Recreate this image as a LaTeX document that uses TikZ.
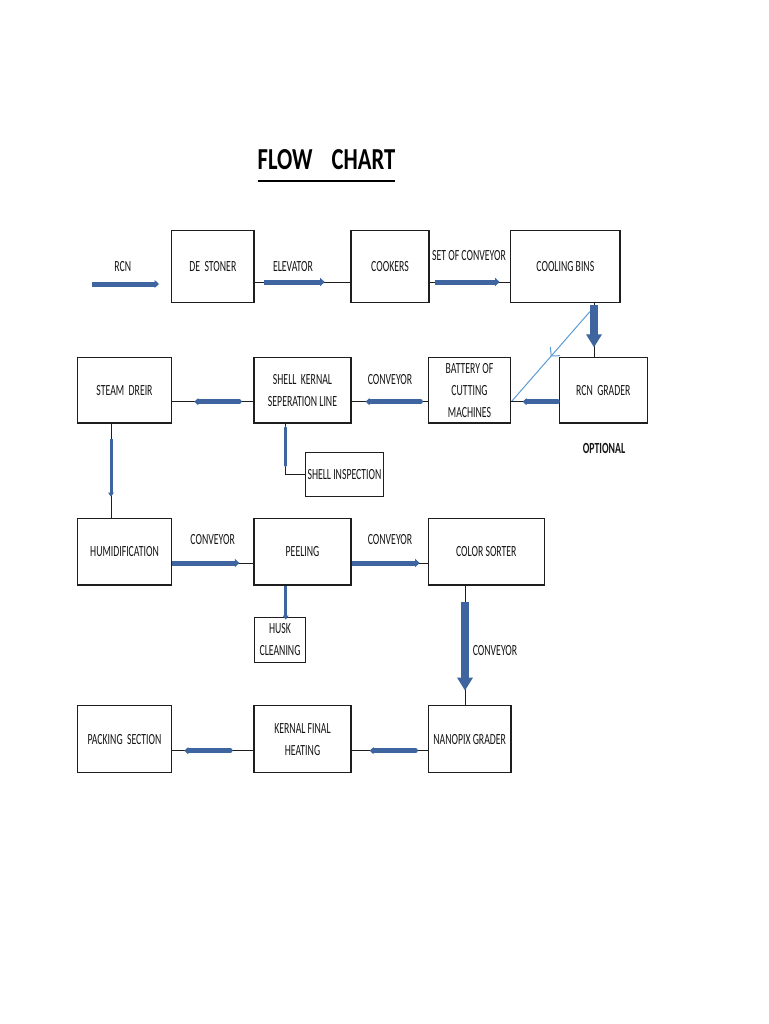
\documentclass[tikz,border=0pt]{standalone}
\usepackage{fontspec}
\setmainfont{Carlito}[FakeStretch=0.63]
\newfontfamily\titlefont{Carlito}[FakeStretch=0.74]
\usetikzlibrary{arrows.meta,calc,decorations.markings}
\definecolor{arrowblue}{RGB}{62,101,160}
\definecolor{diagblue}{RGB}{91,155,213}
\definecolor{linegray}{RGB}{30,30,30}
\definecolor{textgray}{RGB}{20,20,20}
\begin{document}
\begin{tikzpicture}[x=1pt,y=-1pt,
  box/.style={draw=linegray,line width=1.3pt,inner sep=1pt,align=center,text=textgray,
              font=\fontsize{15.5}{22}\selectfont},
  lbl/.style={inner sep=0pt,text=textgray,font=\fontsize{15.5}{22}\selectfont},
  conn/.style={draw=linegray,line width=1pt},
  harrow/.style={arrowblue,line width=5pt,-{Triangle[width=8pt,length=4.5pt]}},
  larrow/.style={arrowblue,line width=4.5pt,line cap=round,-{Triangle[width=7pt,length=4pt]}},
  bigdown/.style={arrowblue,line width=7.5pt,-{Triangle[width=15pt,length=13pt]}},
  thindown/.style={arrowblue,line width=3pt,-{Triangle[width=5.5pt,length=4pt]}},
  diag/.style={diagblue,line width=1pt,postaction={decorate},
     decoration={markings,mark=at position 0.5 with {\arrow{Straight Barb[length=6pt,width=13pt,line width=1pt]}}}}
]
\useasboundingbox (0,0) rectangle (768,1024);

% title
\node[inner sep=0pt,anchor=base west,text=black,font=\titlefont\fontsize{30.5}{30}\selectfont\bfseries] (title) at (257.5,169.5) {FLOW\hspace{19pt}CHART};
\draw[line width=2pt,black] ([yshift=-11.2pt]title.base west) -- ([yshift=-11.2pt]title.base east);

% row levels of connector lines
\coordinate (r1) at (0,282);
\coordinate (r2) at (0,401.7);
\coordinate (r3) at (0,563);
\coordinate (r4) at (0,750.7);

% boxes
\node[box,minimum width=82.3pt,minimum height=72pt] (destoner) at (212.85,266.7) {DE\ \ STONER};
\node[box,minimum width=78pt,minimum height=72pt] (cookers) at (390,266.7) {COOKERS};
\node[box,minimum width=109.3pt,minimum height=72pt] (cooling) at (565.35,266.7) {COOLING BINS};

\node[box,minimum width=94.4pt,minimum height=65.5pt] (steam) at (124.5,390.3) {STEAM\ \ DREIR};
\node[box,minimum width=97pt,minimum height=65.5pt] (shell) at (302.5,390.3) {SHELL\ \ KERNAL\\SEPERATION LINE};
\node[box,minimum width=82.4pt,minimum height=65.5pt] (battery) at (469.5,390.3) {BATTERY OF\\CUTTING\\MACHINES};
\node[box,minimum width=88pt,minimum height=65.5pt] (grader) at (603.3,390.3) {RCN\ \ GRADER};
\node[box,minimum width=77.6pt,minimum height=44pt] (inspect) at (344.5,474.7) {SHELL INSPECTION};

\node[box,minimum width=94.4pt,minimum height=66.7pt] (humid) at (124.5,551.6) {HUMIDIFICATION};
\node[box,minimum width=97pt,minimum height=66.7pt] (peeling) at (302.5,551.6) {PEELING};
\node[box,minimum width=116pt,minimum height=66.7pt] (sorter) at (486.3,551.6) {COLOR SORTER};
\node[box,minimum width=51.4pt,minimum height=45pt] (husk) at (280,639.8) {HUSK\\CLEANING};

\node[box,minimum width=94.4pt,minimum height=67pt] (packing) at (124.5,739.2) {PACKING\ \ SECTION};
\node[box,minimum width=97pt,minimum height=67pt] (kernal) at (302.5,739.2) {KERNAL FINAL\\HEATING};
\node[box,minimum width=82.7pt,minimum height=67pt] (nanopix) at (469.65,739.2) {NANOPIX GRADER};

% labels
\node[lbl] (lrcn) at (122.7,266.7) {RCN};
\node[lbl] (lelev) at (293,266.2) {ELEVATOR};
\node[lbl] (lset) at (469,255.7) {SET OF CONVEYOR};
\node[lbl] (lconv1) at (390,379.2) {CONVEYOR};
\node[lbl,font=\fontsize{15.5}{22}\selectfont\bfseries] (lopt) at (604,448.3) {OPTIONAL};
\node[lbl] (lconv2) at (212.7,540) {CONVEYOR};
\node[lbl] (lconv3) at (390,540) {CONVEYOR};
\node[lbl] (lconv4) at (495,650.7) {CONVEYOR};

% columns of vertical connectors
\coordinate (c1) at (594,0);
\coordinate (c2) at (111,0);
\coordinate (c3) at (285,0);
\coordinate (c4) at (285.7,0);
\coordinate (c5) at (465,0);

% RCN input arrow
\coordinate (rcnA) at (92,284);
\coordinate (rcnB) at (159,284);
\draw[harrow] (rcnA) -- (rcnB);

% row 1
\draw[conn] (destoner.east |- r1) -- (cookers.west |- r1);
\draw[harrow] ($(destoner.east |- r1)+(9,0)$) -- ($(destoner.east |- r1)+(70,0)$);
\draw[conn] (cookers.east |- r1) -- (cooling.west |- r1);
\draw[harrow] ($(cookers.east |- r1)+(5,0)$) -- ($(cookers.east |- r1)+(70,0)$);

% cooling -> grader
\draw[conn] (cooling.south -| c1) -- (grader.north -| c1);
\draw[bigdown] ($(cooling.south -| c1)+(0,2)$) -- ($(cooling.south -| c1)+(0,44)$);

% diagonal
\coordinate (dstart) at (590,311.5);
\draw[diag] (dstart) -- (battery.east |- r2);

% row 2
\draw[conn] (grader.west |- r2) -- (battery.east |- r2);
\draw[larrow] ($(grader.west |- r2)+(-1,0)$) -- ($(grader.west |- r2)+(-36,0)$);
\draw[conn] (battery.west |- r2) -- (shell.east |- r2);
\draw[larrow] ($(battery.west |- r2)+(-7,0)$) -- ($(battery.west |- r2)+(-62,0)$);
\draw[conn] (shell.west |- r2) -- (steam.east |- r2);
\draw[larrow] ($(shell.west |- r2)+(-14,0)$) -- ($(shell.west |- r2)+(-59,0)$);

% shell -> inspection
\draw[conn] (shell.south -| c3) |- (inspect.west);
\draw[arrowblue,line width=3pt,line cap=round] ($(shell.south -| c3)+(0,4)$) -- ($(shell.south -| c3)+(0,42)$);

% steam -> humidification
\draw[conn] (steam.south -| c2) -- (humid.north -| c2);
\draw[thindown] ($(steam.south -| c2)+(0,15)$) -- ($(steam.south -| c2)+(0,73)$);

% row 3
\draw[conn] (humid.east |- r3) -- (peeling.west |- r3);
\draw[harrow] (humid.east |- r3) -- ($(humid.east |- r3)+(67,0)$);
\draw[conn] (peeling.east |- r3) -- (sorter.west |- r3);
\draw[harrow] (peeling.east |- r3) -- ($(peeling.east |- r3)+(68,0)$);

% peeling -> husk
\draw[thindown] (peeling.south -| c4) -- ($(husk.north -| c4)+(0,3)$);

% sorter -> nanopix
\draw[conn] (sorter.south -| c5) -- (nanopix.north -| c5);
\draw[bigdown] ($(sorter.south -| c5)+(0,16)$) -- ($(sorter.south -| c5)+(0,105)$);

% row 4
\draw[conn] (nanopix.west |- r4) -- (kernal.east |- r4);
\draw[larrow] ($(nanopix.west |- r4)+(-12,0)$) -- ($(nanopix.west |- r4)+(-58,0)$);
\draw[conn] (kernal.west |- r4) -- (packing.east |- r4);
\draw[larrow] ($(kernal.west |- r4)+(-23,0)$) -- ($(kernal.west |- r4)+(-69,0)$);
\end{tikzpicture}
\end{document}
